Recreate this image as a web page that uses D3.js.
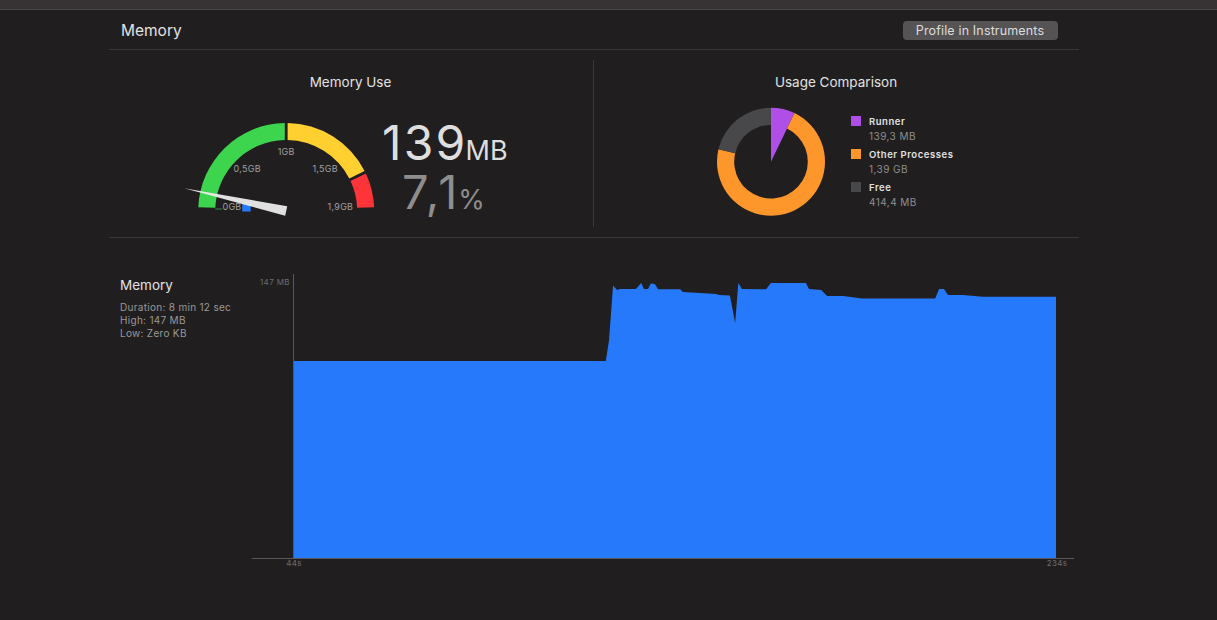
<!DOCTYPE html>
<html>
<head>
<meta charset="utf-8">
<script src="https://cdn.jsdelivr.net/npm/d3@7"></script>
<style>
  html, body { margin: 0; padding: 0; background: #211e1f; overflow: hidden; }
  svg { display: block; }
  text { font-family: Inter, Roboto, "Noto Sans", sans-serif; }
</style>
</head>
<body>
<svg id="chart" width="1217" height="620"></svg>
<script>
// memory over time
const timeSeconds = [44, 121.9, 122.7, 123.7, 124.7, 125.4, 129.4, 130.7, 131.4, 132.4, 133.1, 134.1, 134.9,
  140.4, 141.1, 145.3, 149.3, 150.1, 152.8, 154.1, 154.9, 155.8, 161.8, 163, 171.7, 172.5, 175.5, 177,
  181, 185.7, 203.9, 204.9, 206.1, 207.1, 210.8, 215.8, 234];
const memoryMB = [104.9, 104.9, 116.1, 145.1, 142.7, 143.3, 143.3, 146.5, 143.3, 143.3, 146.2, 145.9, 143.1,
  143.1, 141.7, 141.1, 140.6, 140.1, 139.8, 125.2, 146.5, 143.3, 143.1, 146.5, 146.5, 143.3, 142.7, 139.5,
  139.5, 138.2, 138.2, 143.3, 143.3, 140.1, 140.1, 139.2, 139.2];
const timeTicks = [44, 234];
const memoryTicks = [147];

// gauge
const gaugeBands = [0, 1, 1.71, 2];
const gaugeColors = ["#3dd54e", "#ffd02f", "#fe3439"];
const gaugeTicks = [0, 0.5, 1, 1.5, 1.9];
const gaugeTickLabels = ["0GB", "0,5GB", "1GB", "1,5GB", "1,9GB"];
const currentGB = 0.139;

// donut
const usageNames = ["Runner", "Other Processes", "Free"];
const usageValues = [139.3, 1390, 414.4];
const usageLabels = ["139,3 MB", "1,39 GB", "414,4 MB"];
const usageColors = ["#b04fe8", "#fd962b", "#48484a"];

const infoLines = ["Duration: 8 min 12 sec", "High: 147 MB", "Low: Zero KB"];

const svg = d3.select("#chart");
const lineColor = "#3b3839";

// window strip and section rules
svg.append("rect").attr("width", 1217).attr("height", 9).attr("fill", "#373334");
svg.append("line").attr("x1", 0).attr("x2", 1217).attr("y1", 9.5).attr("y2", 9.5).attr("stroke", "#4c4849");
[49.5, 237.5].forEach(y => {
    svg.append("line").attr("x1", 109).attr("x2", 1079).attr("y1", y).attr("y2", y).attr("stroke", lineColor);
});
svg.append("line").attr("x1", 593.5).attr("x2", 593.5).attr("y1", 60).attr("y2", 227).attr("stroke", lineColor);

function label(x, y, str, size, color, anchor, weight, spacing) {
    return svg.append("text")
        .attr("x", x).attr("y", y)
        .attr("font-size", size)
        .attr("fill", color)
        .attr("text-anchor", anchor || "start")
        .attr("font-weight", weight || 400)
        .attr("letter-spacing", spacing || 0)
        .text(str);
}

// header
label(121, 36, "Memory", 15.5, "#e2e2e2");
svg.append("rect").attr("x", 903).attr("y", 21).attr("width", 155).attr("height", 19).attr("rx", 4)
    .attr("fill", "#555354");
label(980, 35, "Profile in Instruments", 12.5, "#dcdcdc", "middle", 400, 0.15);

label(350.5, 87, "Memory Use", 13.5, "#e2e2e2", "middle");
label(836, 87, "Usage Comparison", 13.5, "#e2e2e2", "middle");

// gauge
const gauge = svg.append("g").attr("transform", "translate(286.2,211)");
const gaugeAngle = d3.scaleLinear().domain([0, 2]).range([-Math.PI / 2, Math.PI / 2]);
const gaugeArc = d3.arc().innerRadius(71).outerRadius(88).padAngle(0.025);

gaugeColors.forEach((color, i) => {
    gauge.append("path")
        .attr("d", gaugeArc({
            startAngle: Math.max(gaugeAngle(gaugeBands[i]), -1.545),
            endAngle: Math.min(gaugeAngle(gaugeBands[i + 1]), 1.545)
        }))
        .attr("fill", color);
});
gauge.append("line").attr("x1", -71).attr("x2", -64).attr("y1", -2).attr("y2", -2)
    .attr("stroke", "#2f8a3c").attr("stroke-width", 1);

// tick labels sit on a slightly flattened ring
const tickAngle = d3.scaleLinear().domain(gaugeTicks).range([-85, -42.5, 0, 42.5, 85]);
const tickRadius = a => 54 + 5 * Math.cos(a);
gauge.selectAll("text.gauge-tick")
    .data(gaugeTicks)
    .join("text")
    .attr("class", "gauge-tick")
    .attr("x", d => {
        const a = tickAngle(d) * Math.PI / 180;
        return tickRadius(a) * Math.sin(a);
    })
    .attr("y", d => {
        const a = tickAngle(d) * Math.PI / 180;
        return -tickRadius(a) * Math.cos(a) + 3.3;
    })
    .attr("text-anchor", "middle")
    .attr("font-size", 9)
    .attr("letter-spacing", 0.25)
    .attr("fill", "#a0a0a0")
    .text((d, i) => gaugeTickLabels[i]);

gauge.append("rect").attr("x", -44).attr("y", -8).attr("width", 8.5).attr("height", 8.5).attr("fill", "#2679fb");

// needle
const needle = gauge.append("g").attr("transform", `rotate(${gaugeAngle(currentGB) * 180 / Math.PI})`);
needle.append("path")
    .attr("d", d3.line()([[-4.8, 0], [0, -104.5], [4.8, 0]]) + "Z")
    .attr("fill", "#ebebeb")
    .attr("fill-opacity", 0.95);

// big readouts
const big = svg.append("text").attr("x", 382).attr("y", 160).attr("fill", "#dedede").attr("font-weight", 400);
big.append("tspan").attr("font-size", 48).attr("letter-spacing", 2.2).text("139");
big.append("tspan").attr("font-size", 27).attr("dx", -2).text("MB");
const pct = svg.append("text").attr("x", 402).attr("y", 209).attr("fill", "#8e8e8e").attr("font-weight", 400);
pct.append("tspan").attr("font-size", 47).attr("letter-spacing", 3).text("7,1");
pct.append("tspan").attr("font-size", 27).attr("dx", -2).text("%");

// donut
const donut = svg.append("g").attr("transform", "translate(771,161.7)");
const pie = d3.pie().sort(null).value(d => d);
donut.selectAll("path")
    .data(pie(usageValues))
    .join("path")
    .attr("d", (d, i) => d3.arc().innerRadius(i === 0 ? 0 : 36.8).outerRadius(54)(d))
    .attr("fill", (d, i) => usageColors[i]);

// legend
usageNames.forEach((name, i) => {
    const top = 116 + i * 33;
    svg.append("rect").attr("x", 851).attr("y", top).attr("width", 10).attr("height", 10).attr("fill", usageColors[i]);
    label(869, top + 9, name, 9.5, "#e2e2e2", "start", 600, 0.55);
    label(869, top + 23.5, usageLabels[i], 10, "#8e8e8e", "start", 400, 0.45);
});

// area chart
const x = d3.scaleLinear().domain([44, 234]).range([293, 1056]);
const y = d3.scaleLinear().domain([0, 147]).range([558, 282]);
const area = d3.area()
    .x((d, i) => x(timeSeconds[i]))
    .y0(y(0))
    .y1(d => y(d));

svg.append("path").datum(memoryMB).attr("d", area).attr("fill", "#2679fb");

svg.append("line").attr("x1", 252).attr("x2", 1074).attr("y1", 558.5).attr("y2", 558.5).attr("stroke", "#5a5758");
svg.append("line").attr("x1", 293.5).attr("x2", 293.5).attr("y1", 274).attr("y2", 558).attr("stroke", "#5a5758");

const xAxis = svg.append("g").attr("transform", "translate(0.5,559)")
    .call(d3.axisBottom(x).tickValues(timeTicks).tickSize(0).tickPadding(1).tickFormat(d => d + "s"));
xAxis.select(".domain").remove();
xAxis.selectAll("text").attr("font-size", 8).attr("letter-spacing", 0.3).attr("fill", "#6e6e6e").attr("font-family", null);

const yAxis = svg.append("g").attr("transform", "translate(290,0)")
    .call(d3.axisLeft(y).tickValues(memoryTicks).tickSize(0).tickPadding(0).tickFormat(d => d + " MB"));
yAxis.select(".domain").remove();
yAxis.selectAll("text").attr("font-size", 8).attr("letter-spacing", 0.4).attr("fill", "#6e6e6e").attr("font-family", null);

// chart caption
label(120, 290, "Memory", 13.5, "#e2e2e2");
infoLines.forEach((line, i) => {
    label(120, 311 + i * 13, line, 10, "#999999", "start", 400, 0.3);
});
</script>
</body>
</html>
